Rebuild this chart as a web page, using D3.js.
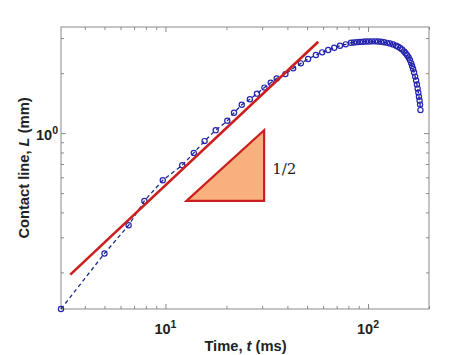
<!DOCTYPE html>
<html>
<head>
<meta charset="utf-8">
<script src="https://cdn.jsdelivr.net/npm/d3@7"></script>
<style>
  html, body { margin: 0; padding: 0; background: #fff; }
  svg { display: block; }
</style>
</head>
<body>
<svg id="chart" width="474" height="355"></svg>
<script>
// ---- data ----
const timeMs = [3.05, 5.0, 6.58, 7.87, 9.70, 12.1, 13.8, 15.6, 17.7, 20.2, 21.8, 23.8, 26.1, 28.3, 30.8, 33.1, 35.4,
  39.1, 42.7, 46.6, 50.6, 55.3, 59.4, 63.6, 68.1, 72.7, 77.6, 82.4, 85.2, 88.2, 91.3, 94.5, 97.7, 101.2, 104.7,
  108.3, 112.1, 116.0, 120.0, 124.2, 128.5, 133.0, 137.6, 140.8, 144.0, 147.3, 150.8, 153.3, 156.0, 158.7, 161.0,
  163.3, 165.1, 167.0, 168.9, 170.9, 172.8, 174.4, 175.8, 177.2, 178.4, 179.7, 180.7, 181.5];
const contactLine = [0.131, 0.249, 0.345, 0.457, 0.580, 0.690, 0.796, 0.912, 1.035, 1.153, 1.265, 1.389, 1.480, 1.578, 1.693, 1.789, 1.883,
  1.979, 2.114, 2.240, 2.355, 2.466, 2.544, 2.613, 2.684, 2.746, 2.791, 2.843, 2.853, 2.863, 2.870, 2.876, 2.883, 2.886, 2.889,
  2.889, 2.886, 2.876, 2.860, 2.840, 2.817, 2.785, 2.746, 2.715, 2.674, 2.628, 2.568, 2.518, 2.460, 2.395, 2.327,
  2.247, 2.171, 2.097, 2.014, 1.922, 1.836, 1.753, 1.673, 1.598, 1.525, 1.457, 1.391, 1.305];
const fitLineT = [3.39, 56.8];
const fitLineL = [0.195, 2.876];
const triangleT = [12.7, 30.7, 30.7];
const triangleL = [0.457, 1.035, 0.457];
const slopeLabel = "1/2";
const xMajorTicks = [10, 100];
const xMinorTicks = [4, 5, 6, 7, 8, 9, 20, 30, 40, 50, 60, 70, 80, 90, 200];
const yMajorTicks = [1];
const yMinorTicks = [0.2, 0.3, 0.4, 0.5, 0.6, 0.7, 0.8, 0.9, 2, 3];
const xLabel = ["Time, ", "t", " (ms)"];
const yLabel = ["Contact line, ", "L", " (mm)"];

// ---- layout ----
const svg = d3.select("#chart");
const L = 61, R = 429, T = 27, B = 309;
const x = d3.scaleLog().domain([3.05, 200]).range([L, R]);
const y = d3.scaleLog().domain([0.131, 3.41]).range([B, T]);
const axisColor = "#8a8a8a";
const font = "'Liberation Sans', Arial, sans-serif";

// frame
svg.append("rect").attr("x", L).attr("y", T).attr("width", R - L).attr("height", B - T)
  .attr("fill", "none").attr("stroke", axisColor).attr("stroke-width", 1);

// ticks (inside, all four sides) via d3 axes
function drawAxis(axisGen, tx, ty) {
  const g = svg.append("g").attr("transform", `translate(${tx},${ty})`).call(axisGen);
  g.select(".domain").remove();
  g.selectAll(".tick line").attr("stroke", axisColor);
  g.selectAll("text").remove();
  return g;
}
drawAxis(d3.axisBottom(x).tickValues(xMajorTicks).tickSize(-5), 0, B);
drawAxis(d3.axisBottom(x).tickValues(xMinorTicks).tickSize(-3), 0, B);
drawAxis(d3.axisTop(x).tickValues(xMajorTicks).tickSize(-5), 0, T);
drawAxis(d3.axisTop(x).tickValues(xMinorTicks).tickSize(-3), 0, T);
drawAxis(d3.axisLeft(y).tickValues(yMajorTicks).tickSize(-5), L, 0);
drawAxis(d3.axisLeft(y).tickValues(yMinorTicks).tickSize(-3), L, 0);
drawAxis(d3.axisRight(y).tickValues(yMajorTicks).tickSize(-5), R, 0);
drawAxis(d3.axisRight(y).tickValues(yMinorTicks).tickSize(-3), R, 0);

// tick labels 10^n
function powLabel(sel, v) {
  const e = Math.round(Math.log10(v));
  sel.append("tspan").text("10");
  sel.append("tspan").attr("font-size", 10.5).attr("dy", -6.5).text(e);
}
xMajorTicks.forEach(v => {
  const t = svg.append("text").attr("x", x(v)).attr("y", 334).attr("text-anchor", "middle")
    .attr("font-family", font).attr("font-weight", "bold").attr("font-size", 14.5).attr("fill", "#222");
  powLabel(t, v);
});
yMajorTicks.forEach(v => {
  const t = svg.append("text").attr("x", 58).attr("y", y(v) + 7).attr("text-anchor", "end")
    .attr("font-family", font).attr("font-weight", "bold").attr("font-size", 14.5).attr("fill", "#222");
  powLabel(t, v);
});

// axis titles
const xt = svg.append("text").attr("x", (L + R) / 2 + 0.5).attr("y", 351).attr("text-anchor", "middle")
  .attr("font-family", font).attr("font-weight", "bold").attr("font-size", 14.7).attr("fill", "#222");
xt.append("tspan").text(xLabel[0]);
xt.append("tspan").attr("font-style", "italic").text(xLabel[1]);
xt.append("tspan").text(xLabel[2]);

const yt = svg.append("text").attr("transform", `translate(29,${(T + B) / 2}) rotate(-90)`).attr("text-anchor", "middle")
  .attr("font-family", font).attr("font-weight", "bold").attr("font-size", 14.7).attr("fill", "#222");
yt.append("tspan").text(yLabel[0]);
yt.append("tspan").attr("font-style", "italic").text(yLabel[1]);
yt.append("tspan").text(yLabel[2]);

// data: dashed line + open circles
const pts = timeMs.map((t, i) => [t, contactLine[i]]);
const line = d3.line().x(d => x(d[0])).y(d => y(d[1]));
svg.append("path").datum(pts).attr("d", line).attr("fill", "none")
  .attr("stroke", "#1b2a86").attr("stroke-width", 1.3).attr("stroke-dasharray", "4,3");
svg.append("g").selectAll("circle").data(pts).join("circle")
  .attr("cx", d => x(d[0])).attr("cy", d => y(d[1])).attr("r", 2.6)
  .attr("fill", "none").attr("stroke", "#2424b0").attr("stroke-width", 1.2);

// red fit line
const fit = fitLineT.map((t, i) => [t, fitLineL[i]]);
svg.append("path").datum(fit).attr("d", line).attr("fill", "none")
  .attr("stroke", "#cc1e1e").attr("stroke-width", 2.6);

// slope triangle
const tri = triangleT.map((t, i) => [t, triangleL[i]]);
svg.append("path").datum(tri).attr("d", d => line(d) + "Z")
  .attr("fill", "#f8b07f").attr("stroke", "#cc1e1e").attr("stroke-width", 2.2).attr("stroke-linejoin", "miter");
svg.append("text").attr("x", x(triangleT[1]) + 8).attr("y", (y(triangleL[1]) + y(triangleL[2])) / 2 + 8)
  .attr("font-family", "'DejaVu Serif', 'Liberation Serif', serif").attr("font-size", 15).attr("fill", "#222")
  .text(slopeLabel);
</script>
</body>
</html>
